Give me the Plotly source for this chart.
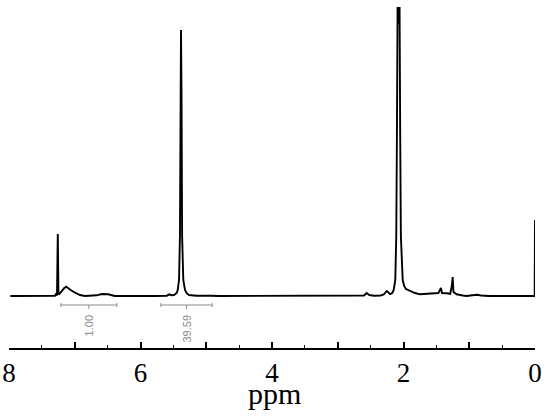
import plotly.graph_objects as go

# Spectrum points (ppm, relative intensity)
ppm = [7.98, 7.60, 7.30, 7.285, 7.270, 7.258, 7.248, 7.235, 7.198, 7.163, 7.130, 7.115,
       7.098, 7.062, 6.996, 6.920, 6.844, 6.740, 6.666, 6.590, 6.540, 6.490, 6.420, 6.388,
       5.800, 5.600, 5.562, 5.530, 5.490, 5.450, 5.434, 5.414, 5.400, 5.392, 5.384, 5.376,
       5.367, 5.349, 5.323, 5.300, 5.262, 5.150, 5.000, 4.969, 4.940, 4.800,
       2.650, 2.600, 2.560, 2.520, 2.450, 2.350, 2.300, 2.256, 2.220, 2.205, 2.170, 2.149,
       2.125, 2.110, 2.100, 2.090, 2.075, 2.060, 2.050, 2.040, 2.012, 1.990, 1.962, 1.901,
       1.825, 1.749, 1.650, 1.550, 1.470, 1.430, 1.415, 1.343, 1.290, 1.265, 1.252, 1.240,
       1.191, 1.100, 1.039, 0.950, 0.880, 0.820, 0.700, 0.300, 0.005, 0.000]
intensity = [0, 0, 0.3, 2, 0.5, 62, 2, 2, 5, 7.7, 9.3, 8.5,
             7, 6, 3.3, 1, 0, 0.3, 0.7, 2, 1.8, 1.7, 0.5, 0,
             0, 0.3, 1.7, 0.8, 1, 3, 6, 16, 60, 200, 266, 200,
             60, 16, 6, 3, 1, 0.3, 0.5, 1, 0.3, 0,
             0, 0.5, 3, 1, 0.3, 0.5, 1.5, 5, 3, 2, 3, 6,
             16, 60, 160, 289, 272, 289, 160, 60, 16, 10, 7, 5,
             3, 1.7, 2.2, 2.5, 3, 8, 3, 2.7, 2, 10, 19, 4,
             1.7, 0.5, 0, 0.8, 1.2, 0.5, 0, 0, 0, 76]

# Integration regions
integral_start = [7.21, 5.69]
integral_end = [6.36, 4.91]
integral_labels = ["1.00", "39.59"]

# Axis ticks
tick_vals = [8, 7, 6, 5, 4, 3, 2, 1, 0]
tick_text = ["8", "", "6", "", "4", "", "2", "", "0"]
x_title = "ppm"

SERIF = "Liberation Serif, Times New Roman, Times, serif"

fig = go.Figure()
fig.add_trace(go.Scatter(x=ppm, y=intensity, mode="lines",
                         line=dict(color="black", width=1.9), hoverinfo="skip"))

gray = "#8a8a8a"
y_line, cap, mid = -9, 2, 4
for s, e, lab in zip(integral_start, integral_end, integral_labels):
    m = (s + e) / 2
    fig.add_trace(go.Scatter(
        x=[s, s, None, s, e, None, e, e, None, m, m],
        y=[y_line - cap, y_line + cap, None, y_line, y_line, None,
           y_line - cap, y_line + cap, None, y_line, y_line - mid],
        mode="lines", line=dict(color=gray, width=1), hoverinfo="skip"))
    fig.add_annotation(x=m, y=-17, text=lab, textangle=-90, showarrow=False,
                       xanchor="center", yanchor="top",
                       font=dict(family="Liberation Sans, Arial, sans-serif", size=11, color=gray))

# Axis title placed as a paper-referenced annotation
fig.add_annotation(xref="paper", yref="paper", x=0.505, y=-0.132,
                   xanchor="center", yanchor="middle", showarrow=False,
                   text=x_title, font=dict(family=SERIF, size=30, color="black"))

fig.update_layout(
    width=550, height=416,
    margin=dict(l=9, r=15, t=0, b=68, autoexpand=False),
    paper_bgcolor="white", plot_bgcolor="white",
    showlegend=False,
    xaxis=dict(range=[8, 0], tickvals=tick_vals, ticktext=tick_text,
               automargin=False,
               ticks="inside", ticklen=6, tickwidth=1.5, tickcolor="black",
               showline=True, linecolor="black", linewidth=1.5,
               showgrid=False, zeroline=False,
               minor=dict(dtick=0.5, tick0=0, ticks="inside", ticklen=3.5,
                          tickwidth=1.2, tickcolor="black", showgrid=False),
               tickfont=dict(family=SERIF, size=27, color="black")),
    yaxis=dict(range=[-52, 296], visible=False, showgrid=False, zeroline=False,
               automargin=False),
)

fig.write_html("out.html", config={"displayModeBar": False},
               post_script="document.body.style.margin='0';document.body.style.padding='0';")
